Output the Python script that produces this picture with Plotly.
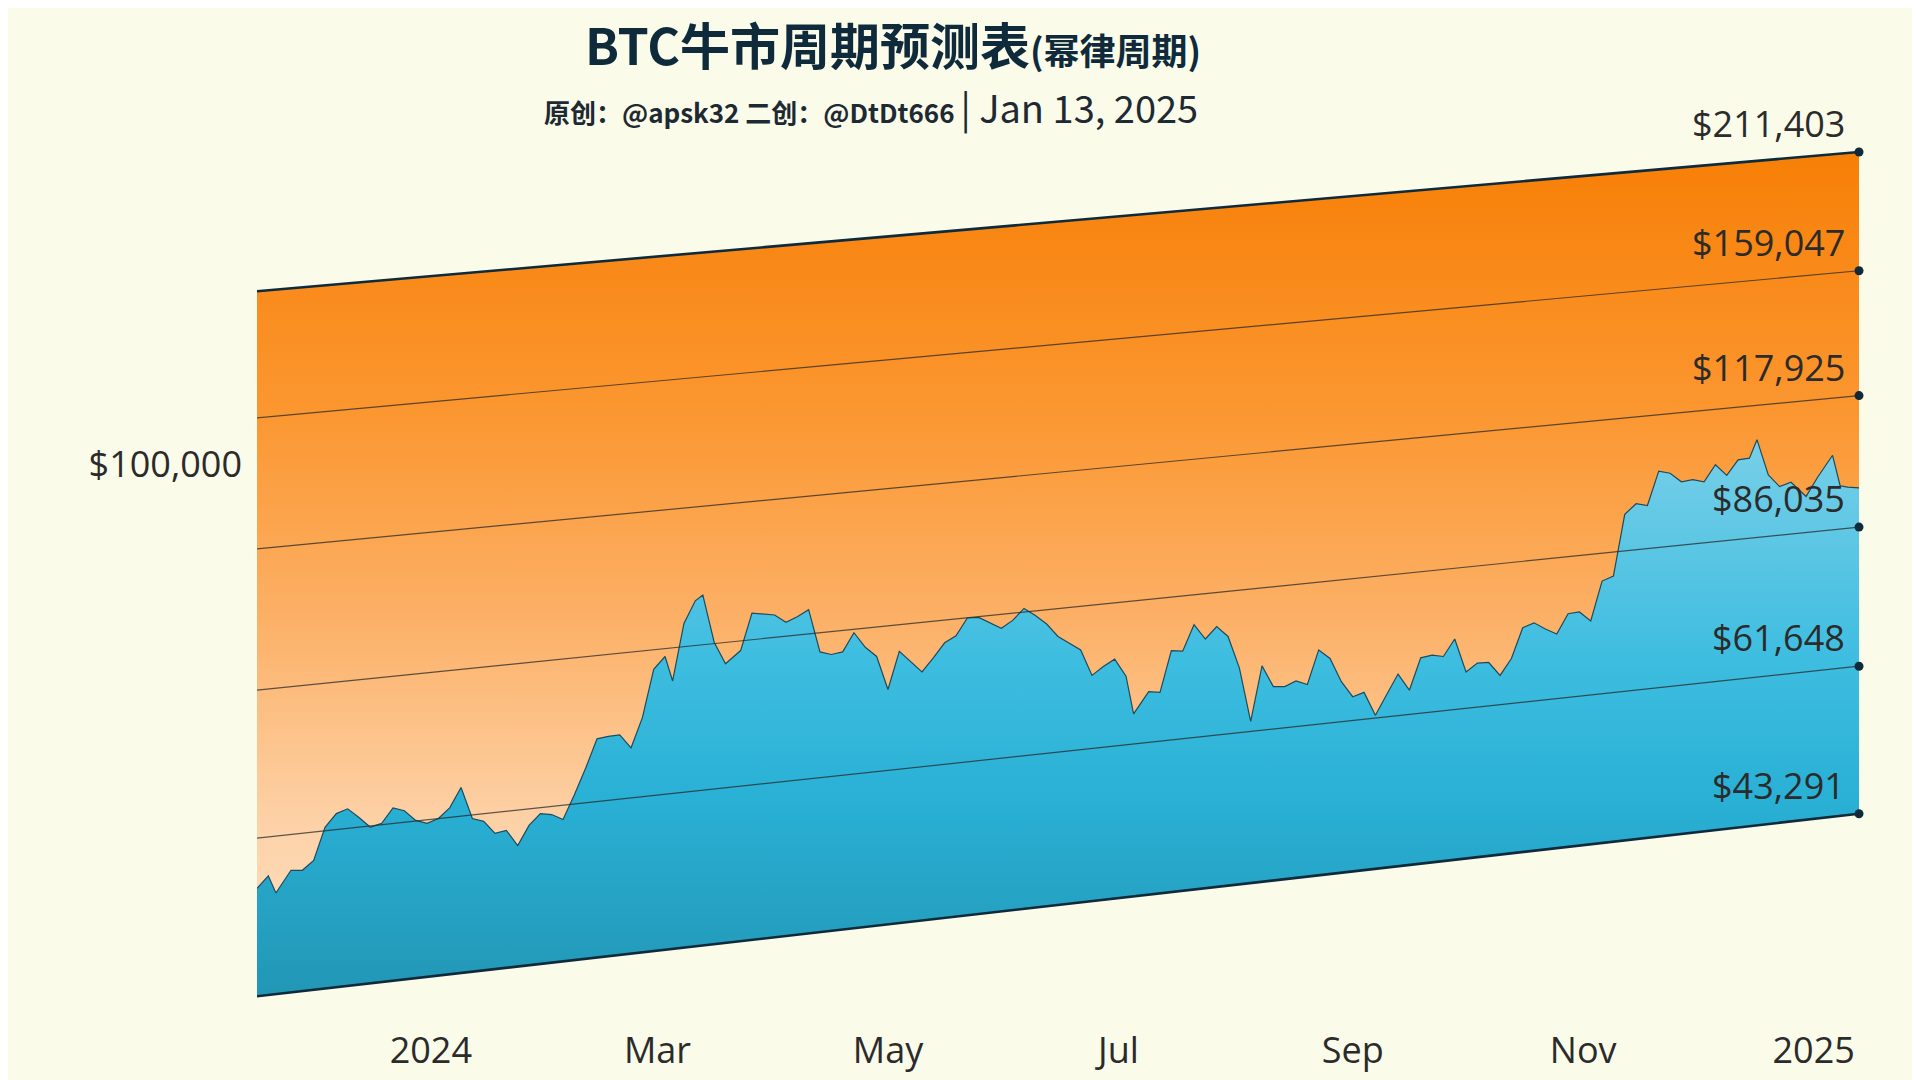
import math
import plotly.graph_objects as go

# BTC price (USD)
dates = ["2023-11-16", "2023-11-19", "2023-11-21", "2023-11-25", "2023-11-28", "2023-12-01", "2023-12-04",
         "2023-12-07", "2023-12-10", "2023-12-13", "2023-12-16", "2023-12-19", "2023-12-22", "2023-12-25",
         "2023-12-28", "2023-12-31", "2024-01-03", "2024-01-06", "2024-01-09", "2024-01-12", "2024-01-15",
         "2024-01-18", "2024-01-21", "2024-01-24", "2024-01-27", "2024-01-30", "2024-02-02", "2024-02-05",
         "2024-02-08", "2024-02-11", "2024-02-14", "2024-02-17", "2024-02-20", "2024-02-23", "2024-02-26",
         "2024-02-29", "2024-03-03", "2024-03-05", "2024-03-08", "2024-03-11", "2024-03-13", "2024-03-16",
         "2024-03-19", "2024-03-23", "2024-03-26", "2024-03-29", "2024-04-01", "2024-04-04", "2024-04-07",
         "2024-04-10", "2024-04-13", "2024-04-16", "2024-04-19", "2024-04-22", "2024-04-25", "2024-04-28",
         "2024-05-01", "2024-05-04", "2024-05-07", "2024-05-10", "2024-05-13", "2024-05-16", "2024-05-19",
         "2024-05-22", "2024-05-25", "2024-05-28", "2024-05-31", "2024-06-03", "2024-06-06", "2024-06-09",
         "2024-06-12", "2024-06-15", "2024-06-18", "2024-06-21", "2024-06-24", "2024-06-27", "2024-06-30",
         "2024-07-03", "2024-07-05", "2024-07-09", "2024-07-12", "2024-07-15", "2024-07-18", "2024-07-21",
         "2024-07-24", "2024-07-27", "2024-07-30", "2024-08-02", "2024-08-05", "2024-08-08", "2024-08-11",
         "2024-08-14", "2024-08-17", "2024-08-20", "2024-08-23", "2024-08-26", "2024-08-29", "2024-09-01",
         "2024-09-04", "2024-09-07", "2024-09-10", "2024-09-13", "2024-09-16", "2024-09-19", "2024-09-22",
         "2024-09-25", "2024-09-28", "2024-10-01", "2024-10-04", "2024-10-07", "2024-10-10", "2024-10-13",
         "2024-10-16", "2024-10-19", "2024-10-22", "2024-10-25", "2024-10-28", "2024-10-31", "2024-11-03",
         "2024-11-06", "2024-11-09", "2024-11-12", "2024-11-15", "2024-11-18", "2024-11-21", "2024-11-24",
         "2024-11-27", "2024-11-30", "2024-12-03", "2024-12-06", "2024-12-09", "2024-12-12", "2024-12-15",
         "2024-12-17", "2024-12-20", "2024-12-23", "2024-12-26", "2024-12-30", "2025-01-02", "2025-01-06",
         "2025-01-08", "2025-01-10", "2025-01-13"]
price = [36200, 37300, 35800, 37800, 37800, 38700, 41900,
         43300, 43800, 42900, 41900, 42300, 43900, 43600,
         42600, 42300, 42800, 43900, 46100, 42800, 42500,
         41300, 41600, 40100, 42100, 43300, 43200, 42700,
         45300, 48300, 51800, 52100, 52300, 50700, 54500,
         61200, 63100, 59500, 68300, 72100, 73100, 65300,
         62000, 64000, 70000, 69900, 69700, 68500, 69400,
         70600, 63800, 63400, 63800, 66800, 64500, 63100,
         58300, 63900, 62300, 60800, 62900, 65200, 66300,
         69200, 69300, 68400, 67500, 68800, 70800, 69600,
         68200, 66200, 65100, 64100, 60300, 61600, 62700,
         60200, 55000, 58000, 57900, 64000, 63900, 68100,
         65800, 67800, 66200, 61400, 54000, 61700, 58700,
         58700, 59500, 59000, 64100, 62800, 59400, 57300,
         57900, 54800, 57600, 60500, 58200, 62900, 63300,
         63100, 65800, 60800, 62100, 62200, 60300, 62800,
         67600, 68400, 67400, 66600, 69900, 70200, 68700,
         75600, 76500, 88700, 91000, 90600, 98400, 97900,
         95900, 96400, 95900, 99900, 97400, 101100, 101500,
         106100, 97500, 94800, 95800, 92600, 96900, 102200,
         95000, 94700, 94500]

# power-law band levels at the chart's first and last date
band_dates = ["2023-11-16", "2025-01-13"]
band_start = [151400, 111800, 81650, 58220, 40830, 27950]
band_end = [211403, 159047, 117925, 86035, 61648, 43291]

tick_vals = ["2024-01-01", "2024-03-01", "2024-05-01", "2024-07-01", "2024-09-01", "2024-11-01", "2025-01-01"]
tick_text = ["2024", "Mar", "May", "Jul", "Sep", "Nov", "2025"]

bg = "#fbfbe9"
navy = "#0e2a3b"
font = "Open Sans"

fig = go.Figure()

# orange zone between lowest and highest band
fig.add_trace(go.Scatter(x=band_dates, y=[band_start[-1], band_end[-1]], mode="lines",
                         line=dict(width=0), hoverinfo="skip", showlegend=False))
fig.add_trace(go.Scatter(x=band_dates, y=[band_start[0], band_end[0]], mode="lines",
                         line=dict(width=0), fill="tonexty", hoverinfo="skip", showlegend=False,
                         fillgradient=dict(type="vertical", colorscale=[
                             [0, "#fde4ca"], [0.2, "#fdd2a8"], [0.45, "#fcb066"],
                             [0.7, "#fb962f"], [1, "#f77f06"]])))

# price area
fig.add_trace(go.Scatter(x=band_dates, y=[band_start[-1], band_end[-1]], mode="lines",
                         line=dict(width=0), hoverinfo="skip", showlegend=False))
fig.add_trace(go.Scatter(x=dates, y=price, mode="lines", line=dict(color="#1d4b5c", width=1.2),
                         fill="tonexty", showlegend=False,
                         fillgradient=dict(type="vertical", colorscale=[
                             [0, "#2296b5"], [0.35, "#29b0d5"], [0.6, "#3dbde0"], [1, "#78cfe8"]])))

# band lines
for i, (s, e) in enumerate(zip(band_start, band_end)):
    edge = i in (0, len(band_start) - 1)
    fig.add_trace(go.Scatter(x=band_dates, y=[s, e], mode="lines",
                             line=dict(color=navy if edge else "rgba(40,40,40,0.75)", width=2.6 if edge else 1.2),
                             hoverinfo="skip", showlegend=False))
    fig.add_trace(go.Scatter(x=[band_dates[1]], y=[e], mode="markers", marker=dict(color=navy, size=9),
                             cliponaxis=False, hoverinfo="skip", showlegend=False))
    fig.add_annotation(x=band_dates[1], y=math.log10(e), yref="y", text=f"${e:,.0f}", showarrow=False,
                       xanchor="right", yanchor="bottom", xshift=-12, yshift=2,
                       font=dict(family=font, size=36, color="#2b2b2b"))

fig.add_annotation(x=0.397, y=1.142, xref="paper", yref="paper", showarrow=False,
                   text="<b>BTC牛市周期预测表</b><span style='font-size:36px'><b>(幂律周期)</b></span>",
                   font=dict(family="Noto Sans CJK SC", size=50, color=navy))
fig.add_annotation(x=0.383, y=1.060, xref="paper", yref="paper", showarrow=False,
                   text="<b>原创：@apsk32 二创：@DtDt666</b> <span style='font-size:38px'>| Jan 13, 2025</span>",
                   font=dict(family="Noto Sans CJK SC", size=26, color="#1e2a33"))

fig.update_layout(
    width=1920, height=1080,
    paper_bgcolor=bg, plot_bgcolor=bg,
    margin=dict(l=249, r=69, t=122, b=76),
    font=dict(family=font, color="#2b2b2b"),
    xaxis=dict(range=band_dates, tickvals=tick_vals, ticktext=tick_text, showgrid=False,
               zeroline=False, showline=False, ticks="", tickfont=dict(size=36), ticklabelstandoff=14),
    yaxis=dict(type="log", range=[4.430, 5.348], tickvals=[100000], ticktext=["$100,000"],
               showgrid=False, zeroline=False, showline=False, ticks="", tickfont=dict(size=36),
               ticklabelstandoff=14),
)

fig.write_html("out.html")
